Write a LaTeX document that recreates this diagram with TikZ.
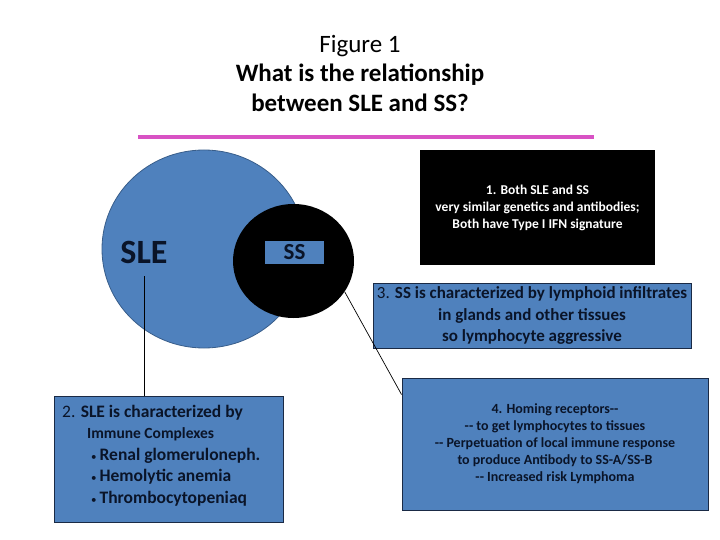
\documentclass[tikz,border=0pt]{standalone}
\usepackage{fontspec}
\setmainfont{Carlito}
\usetikzlibrary{shapes.geometric,calc}
\definecolor{sblue}{HTML}{4F81BD}
\definecolor{sedge}{HTML}{385D8A}
\definecolor{bedge}{HTML}{1A2A45}
\definecolor{ink}{HTML}{0A1428}
\definecolor{pinkline}{HTML}{D852C4}
\tikzset{
  bluebox/.style={rectangle, fill=sblue, draw=bedge, line width=0.9pt, inner sep=0pt, text=ink, font=\bfseries},
  conn/.style={draw=black, line width=0.7pt},
}
\begin{document}
\begin{tikzpicture}[x=1pt,y=-1pt]
\useasboundingbox (0,0) rectangle (720,540);
% title
\node[align=center, font=\fontsize{25}{29.5}\selectfont, text=black] (title) at (360,73)
  {Figure 1\\\textbf{What is the relationship}\\\textbf{between SLE and SS?}};
\coordinate (pl) at (138,137);
\coordinate (pr) at (594,137);
\draw[pinkline, line width=3.5pt] (pl) -- (pr);
% circles
\node[ellipse, fill=sblue, draw=sedge, line width=0.8pt, minimum width=204pt, minimum height=198pt, inner sep=0pt] (sle) at (204,249) {};
\node[ellipse, fill=black, minimum width=121pt, minimum height=114pt, inner sep=0pt] (ss) at (293.5,261) {};
\node[rectangle, fill=sblue, minimum width=59pt, minimum height=23pt, inner sep=0pt, text=ink, font=\bfseries\fontsize{23}{24}\selectfont] (sslab) at (294.5,252.5) {SS};
\node[text=ink, font=\bfseries\fontsize{34}{36}\selectfont, inner sep=0pt] (sletxt) at (144,252) {SLE};
% box 1
\node[rectangle, fill=black, minimum width=235pt, minimum height=115pt, inner sep=0pt, text=white, align=center, font=\bfseries\fontsize{13.5}{17}\selectfont] (b1) at (537.5,207.5)
  {1. Both SLE and SS\\very similar genetics and antibodies;\\Both have Type I IFN signature};
% box 3
\node[bluebox, minimum width=318pt, minimum height=65pt, align=center, font=\bfseries\fontsize{17}{21.5}\selectfont] (b3) at (532,315.5)
  {\mdseries 3. \bfseries SS is characterized by lymphoid infiltrates\\in glands and other tissues\\so lymphocyte aggressive};
% box 2
\node[bluebox, minimum width=229pt, minimum height=126pt] (b2) at (168.5,459) {};
\node[anchor=north west, inner sep=0pt, align=left, text=ink, font=\fontsize{17.5}{21.5}\selectfont] (b2t) at (62,405)
  {2. \textbf{SLE is characterized by}\\
   \hspace*{25pt}{\fontsize{15.5}{21.5}\selectfont\bfseries Immune Complexes}\\
   \hspace*{29pt}{\fontsize{11}{21.5}\selectfont •}\,\textbf{Renal glomeruloneph.}\\
   \hspace*{29pt}{\fontsize{11}{21.5}\selectfont •}\,\textbf{Hemolytic anemia}\\
   \hspace*{29pt}{\fontsize{11}{21.5}\selectfont •}\,\textbf{Thrombocytopeniaq}};
% box 4
\node[bluebox, minimum width=306pt, minimum height=132pt, align=center, font=\bfseries\fontsize{14}{17}\selectfont] (b4) at (555,444)
  {4. Homing receptors-{}-\\-{}- to get lymphocytes to tissues\\-{}- Perpetuation of local immune response\\to produce Antibody to SS-A/SS-B\\-{}- Increased risk Lymphoma};
% connectors
\coordinate (slefoot) at (144,276);
\draw[conn] (slefoot) -- (slefoot |- b2.north);
\coordinate (b4in) at ($(b4.north west)+(0,17)$);
\draw[conn] (ss.-31) -- (b4in);
\end{tikzpicture}
\end{document}
